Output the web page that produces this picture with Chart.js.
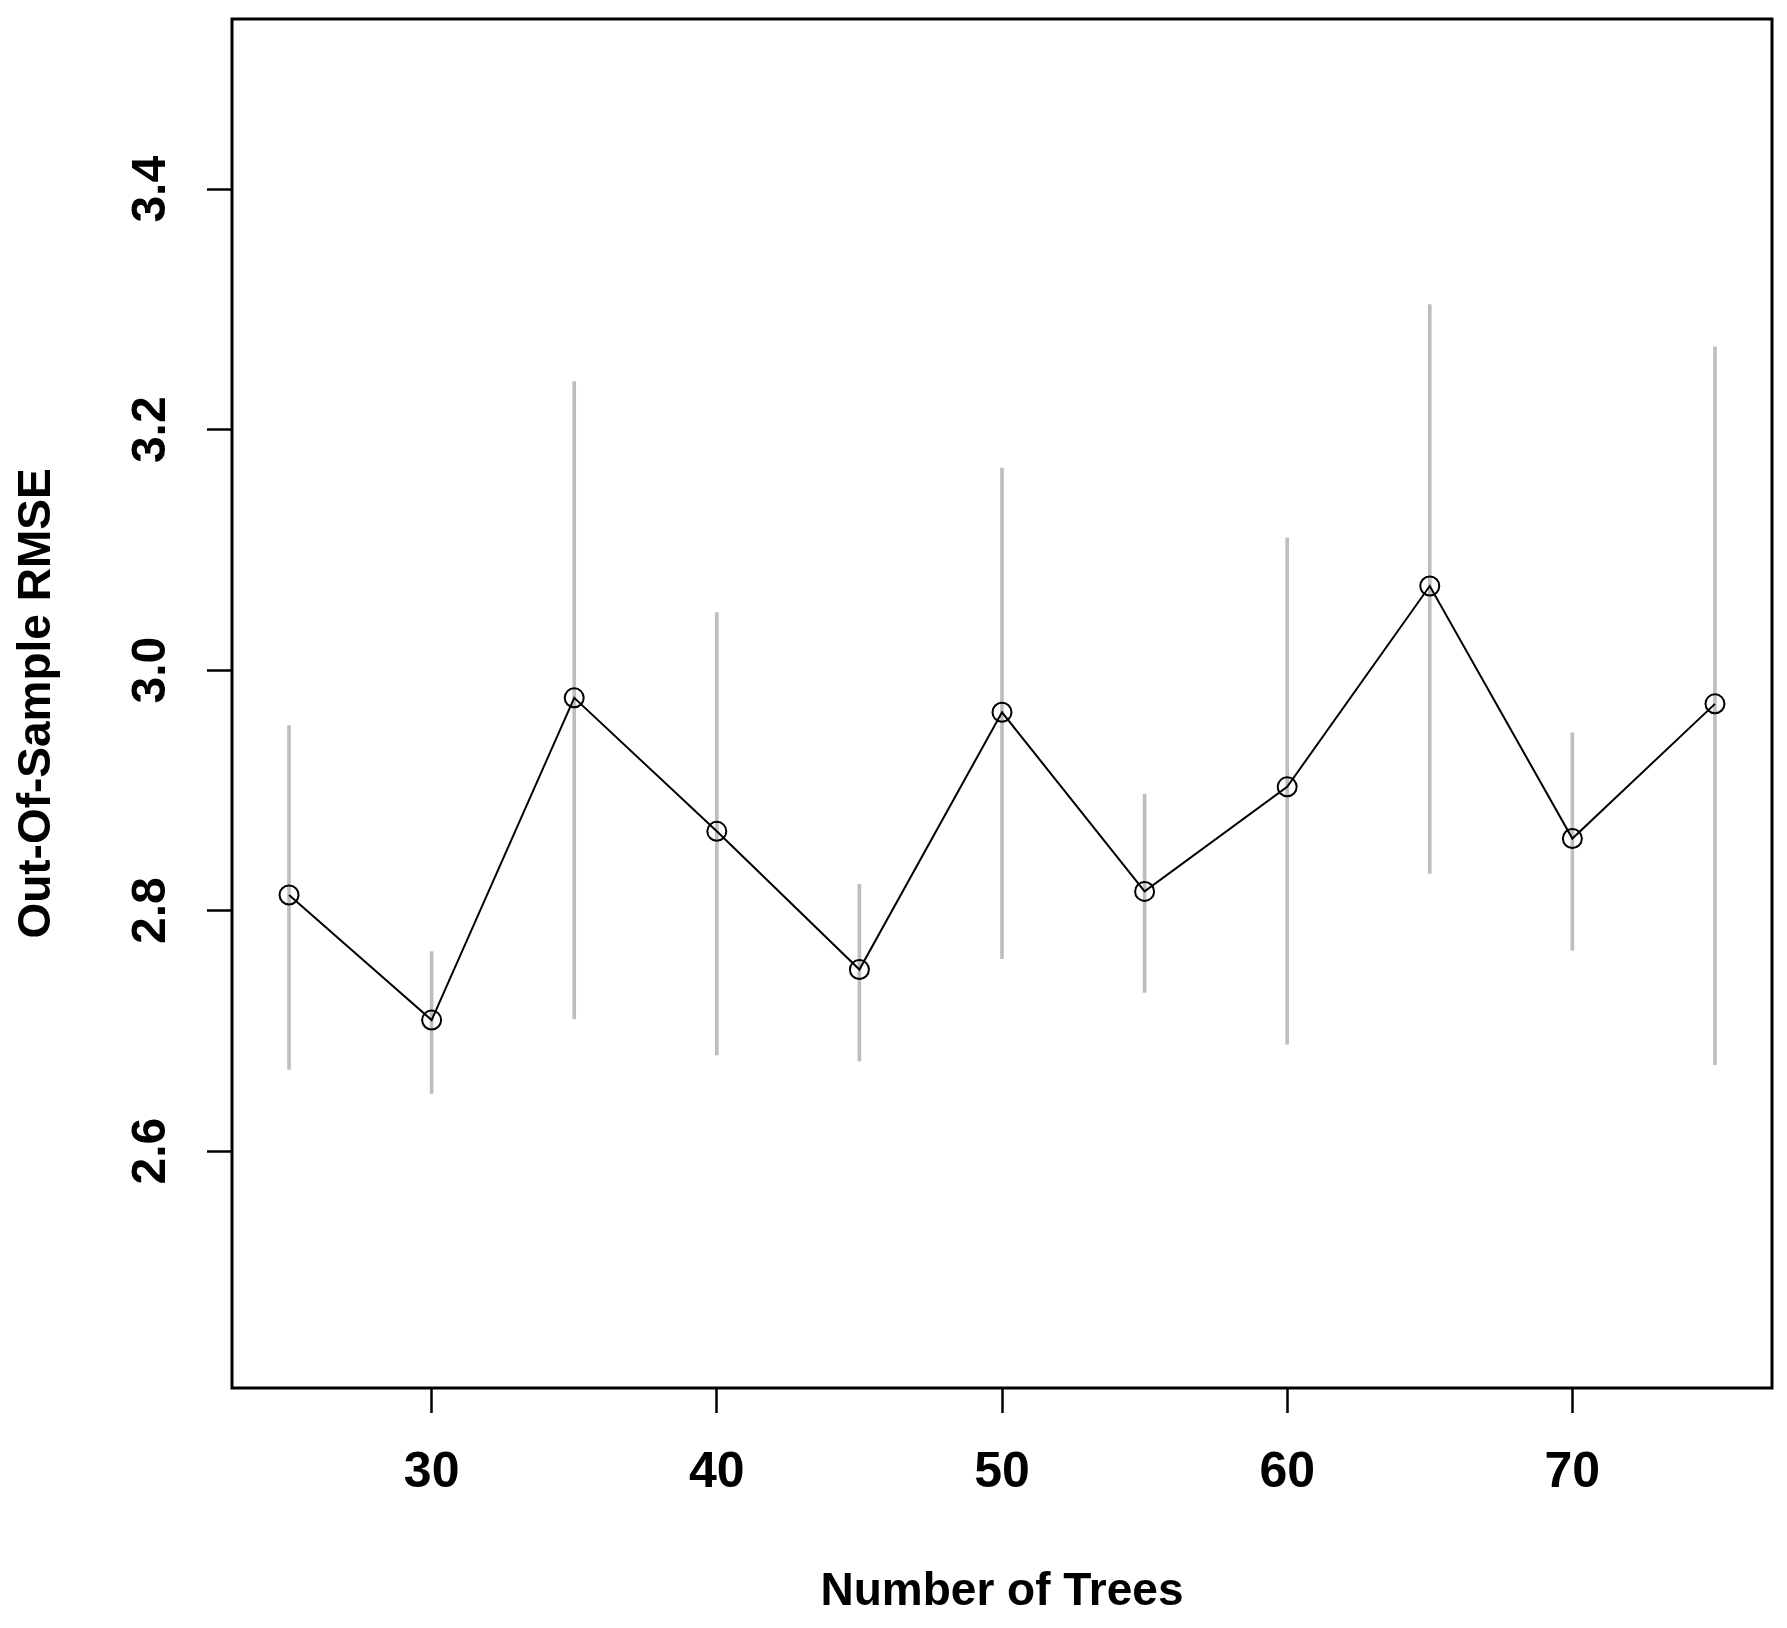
<!DOCTYPE html>
<html>
<head>
<meta charset="utf-8">
<script src="https://cdn.jsdelivr.net/npm/chart.js@4/dist/chart.umd.min.js"></script>
<style>
  html, body { margin: 0; padding: 0; background: #ffffff; }
  #wrap { width: 1787px; height: 1628px; }
</style>
</head>
<body>
<div id="wrap"><canvas id="c" width="1787" height="1628"></canvas></div>
<script>
// ---- data ----
const trees = [25, 30, 35, 40, 45, 50, 55, 60, 65, 70, 75];
const rmse  = [2.813, 2.709, 2.977, 2.866, 2.751, 2.965, 2.816, 2.903, 3.070, 2.860, 2.972];
const lower = [2.668, 2.648, 2.710, 2.680, 2.675, 2.760, 2.732, 2.689, 2.831, 2.767, 2.672];
const upper = [2.954, 2.766, 3.240, 3.048, 2.822, 3.168, 2.897, 3.110, 3.304, 2.948, 3.269];
const xTicks = [30, 40, 50, 60, 70];
const yTicks = [2.6, 2.8, 3.0, 3.2, 3.4];
const xRange = [23, 77];
const yRange = [2.403, 3.5416];
const xTitle = 'Number of Trees';
const yTitle = 'Out-Of-Sample RMSE';

const FONT = "'Liberation Sans', Arial, sans-serif";

const boxPlugin = {
  id: 'box',
  afterDraw(chart) {
    const a = chart.chartArea, ctx = chart.ctx;
    ctx.save();
    ctx.strokeStyle = '#000';
    ctx.lineWidth = 3;
    ctx.strokeRect(a.left, a.top, a.right - a.left, a.bottom - a.top);
    ctx.restore();
  }
};

new Chart(document.getElementById('c'), {
  type: 'line',
  data: {
    datasets: [
      {
        type: 'line',
        data: trees.map((t, i) => ({ x: t, y: rmse[i] })),
        borderColor: '#000000',
        borderWidth: 2,
        pointRadius: 9.5,
        pointBorderWidth: 2,
        pointBorderColor: '#000000',
        pointBackgroundColor: 'rgba(0,0,0,0)',
        tension: 0,
        fill: false,
        order: 0
      },
      {
        type: 'bar',
        data: trees.map((t, i) => ({ x: t, y: [lower[i], upper[i]] })),
        backgroundColor: '#bebebe',
        borderWidth: 0,
        barThickness: 3,
        grouped: false,
        order: 1
      }
    ]
  },
  options: {
    responsive: false,
    devicePixelRatio: 1,
    animation: false,
    events: [],
    layout: { padding: { left: 0, top: 19, right: 15, bottom: 0 } },
    plugins: { legend: { display: false }, tooltip: { enabled: false }, title: { display: false } },
    scales: {
      x: {
        type: 'linear',
        min: xRange[0], max: xRange[1],
        offset: false,
        afterBuildTicks: s => { s.ticks = xTicks.map(v => ({ value: v })); },
        afterFit: s => { s.height = 240; s.paddingLeft = 0; s.paddingRight = 0; },
        ticks: {
          color: '#000',
          font: { family: FONT, size: 50, weight: 'bold' },
          padding: 30,
          maxRotation: 0, minRotation: 0,
          callback: v => String(v)
        },
        grid: { display: true, drawOnChartArea: false, drawTicks: true, tickLength: 25, tickColor: '#000', tickWidth: 2.5, offset: false },
        border: { display: false },
        title: {
          display: true, text: xTitle, color: '#000',
          font: { family: FONT, size: 46, weight: 'bold' },
          padding: { top: 0, bottom: 8 }
        }
      },
      y: {
        type: 'linear',
        min: yRange[0], max: yRange[1],
        afterBuildTicks: s => { s.ticks = yTicks.map(v => ({ value: v })); },
        afterFit: s => { s.width = 232; s.paddingTop = 0; s.paddingBottom = 0; },
        ticks: {
          color: '#000',
          font: { family: FONT, size: 48, weight: 'bold' },
          padding: 22,
          minRotation: 90, maxRotation: 90,
          crossAlign: 'center',
          callback: v => Number(v).toFixed(1)
        },
        grid: { display: true, drawOnChartArea: false, drawTicks: true, tickLength: 25, tickColor: '#000', tickWidth: 2.5 },
        border: { display: false },
        title: {
          display: true, text: yTitle, color: '#000',
          font: { family: FONT, size: 46, weight: 'bold' },
          padding: { top: 10, bottom: 0 }
        }
      }
    }
  },
  plugins: [boxPlugin]
});
</script>
</body>
</html>
